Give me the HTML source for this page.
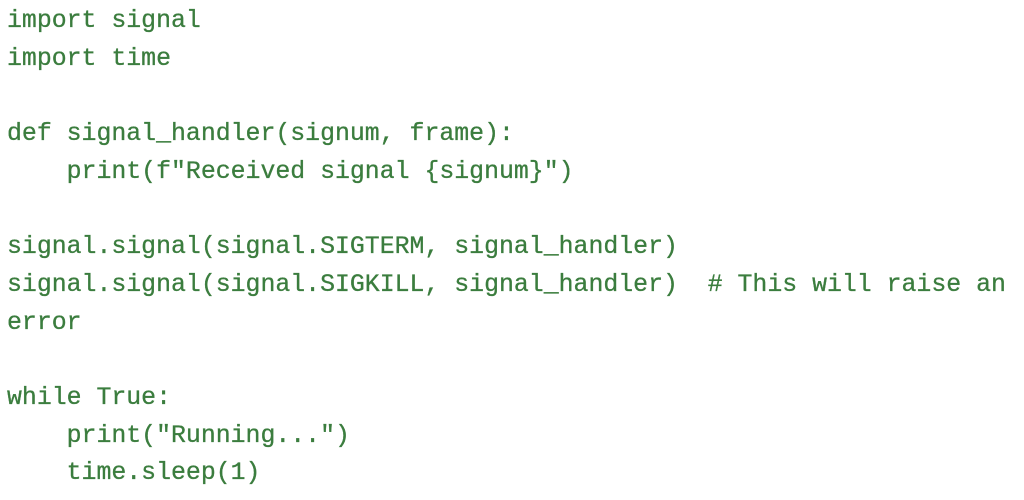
<!DOCTYPE html>
<html><head><meta charset="utf-8"><style>
html,body{margin:0;padding:0;background:#fff;width:1024px;height:500px;overflow:hidden}
pre{margin:0;position:absolute;left:7px;top:3px;font-family:"Liberation Mono",monospace;font-size:24.85px;line-height:37.7px;color:#3b7d3e;-webkit-text-stroke:0.3px #3b7d3e;}
</style></head><body>
<pre>import signal
import time

def signal_handler(signum, frame):
    print(f"Received signal {signum}")

signal.signal(signal.SIGTERM, signal_handler)
signal.signal(signal.SIGKILL, signal_handler)  # This will raise an
error

while True:
    print("Running...")
    time.sleep(1)</pre>
</body></html>
